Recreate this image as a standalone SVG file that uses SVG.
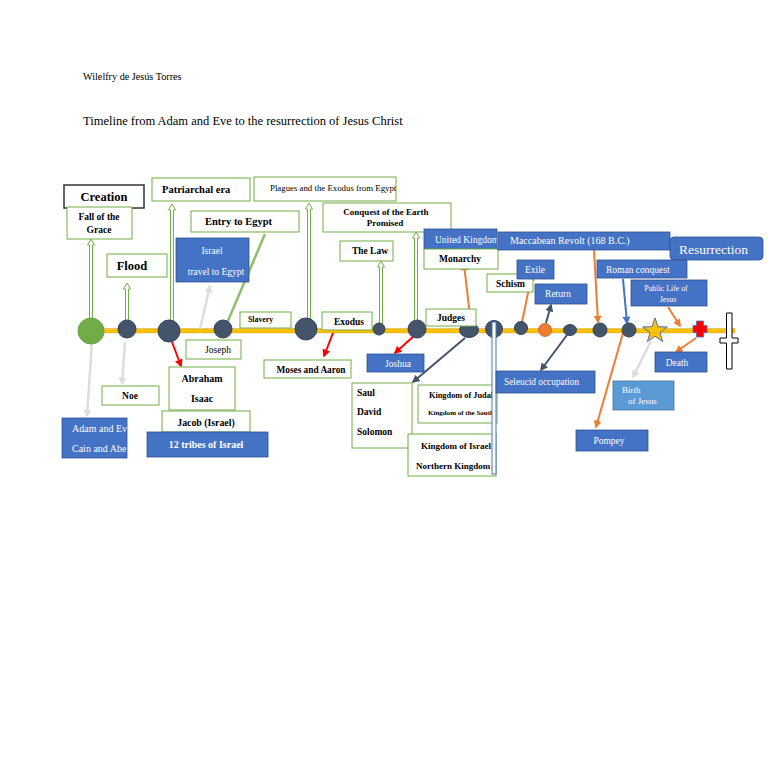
<svg xmlns="http://www.w3.org/2000/svg" width="768" height="762" viewBox="0 0 768 762">
<style>
text{font-family:"Liberation Serif","Times New Roman",serif;fill:#000}
.g{fill:#fff;stroke:#70AD47;stroke-width:1}
.k{fill:#fff;stroke:#333;stroke-width:1.5}
.b{fill:#4472C4;stroke:#2F528F;stroke-width:0.8}
.w{fill:#fff}
.bd{font-weight:bold}
.c{text-anchor:middle}
.dot{fill:#44546A;stroke:#36455A;stroke-width:1}
.ga{fill:#fff;stroke:#70AD47;stroke-width:1}
.gray{stroke:#DDDDDD;stroke-width:2.5;fill:none;marker-end:url(#mGray)}
.red{stroke:#FF0000;stroke-width:2;fill:none;marker-end:url(#mRed)}
.sl{stroke:#44546A;stroke-width:2;fill:none;marker-end:url(#mSl)}
.or{stroke:#ED7D31;stroke-width:2;fill:none;marker-end:url(#mOr)}
.bl{stroke:#4472C4;stroke-width:2;fill:none;marker-end:url(#mBl)}
</style>
<defs>
<marker id="mGray" viewBox="0 0 10 10" refX="8" refY="5" markerWidth="8" markerHeight="8" markerUnits="userSpaceOnUse" orient="auto"><path d="M0,0L10,5L0,10z" fill="#DDDDDD"/></marker>
<marker id="mRed" viewBox="0 0 10 10" refX="8" refY="5" markerWidth="8" markerHeight="8" markerUnits="userSpaceOnUse" orient="auto"><path d="M0,0L10,5L0,10z" fill="#FF0000"/></marker>
<marker id="mSl" viewBox="0 0 10 10" refX="8" refY="5" markerWidth="8" markerHeight="8" markerUnits="userSpaceOnUse" orient="auto"><path d="M0,0L10,5L0,10z" fill="#44546A"/></marker>
<marker id="mOr" viewBox="0 0 10 10" refX="8" refY="5" markerWidth="8" markerHeight="8" markerUnits="userSpaceOnUse" orient="auto"><path d="M0,0L10,5L0,10z" fill="#ED7D31"/></marker>
<marker id="mBl" viewBox="0 0 10 10" refX="8" refY="5" markerWidth="8" markerHeight="8" markerUnits="userSpaceOnUse" orient="auto"><path d="M0,0L10,5L0,10z" fill="#4472C4"/></marker>
<clipPath id="cpUK"><rect x="424" y="229" width="73" height="20"/></clipPath>
<clipPath id="cpAdam"><rect x="62" y="418" width="65" height="40"/></clipPath>
<clipPath id="cpPl"><rect x="254" y="177" width="142" height="24"/></clipPath>
</defs>

<text x="83" y="80" font-size="10.2">Wilelfry de Jesús Torres</text>
<text x="83" y="125" font-size="12.5">Timeline from Adam and Eve to the resurrection of Jesus Christ</text>

<!-- timeline -->
<rect x="90" y="328.5" width="645" height="4.5" fill="#FFC000" stroke="#B5A642" stroke-width="0.4"/>

<g id="connectors">
<path class="ga" d="M89.5,320V245H87.5L91,239L94.5,245H92.5V320Z"/>
<path class="ga" d="M125.5,322V289H123.5L127,283L130.5,289H128.5V322Z"/>
<path class="ga" d="M170.5,322V210H168.5L172,204L175.5,210H173.5V322Z"/>
<path class="ga" d="M307.5,320V209H305.5L309,203L312.5,209H310.5V320Z"/>
<path class="ga" d="M379.5,324V267H377.5L381,261L384.5,267H382.5V324Z"/>
<path class="ga" d="M414.5,322V238H412.5L416,232L419.5,238H417.5V322Z"/>
<line x1="227" y1="323" x2="265" y2="234" stroke="#8CC06A" stroke-width="2.5"/>
<line class="gray" x1="92" y1="342" x2="87" y2="416"/>
<line class="gray" x1="125" y1="342" x2="122" y2="384"/>
<line class="gray" x1="200" y1="329" x2="210" y2="286"/>
<line class="gray" x1="651" y1="341" x2="633" y2="377"/>
<line class="red" x1="172" y1="342" x2="181" y2="366"/>
<line class="red" x1="333" y1="333" x2="324" y2="356"/>
<line class="red" x1="415" y1="335" x2="395" y2="353"/>
<line class="sl" x1="465" y1="338" x2="413" y2="382"/>
<line class="sl" x1="546" y1="323" x2="551" y2="305"/>
<line class="sl" x1="567" y1="335" x2="541" y2="370"/>
<line class="or" x1="471" y1="325" x2="464" y2="264"/>
<line class="or" x1="522" y1="322" x2="532" y2="274"/>
<line class="or" x1="594" y1="250" x2="598" y2="322"/>
<line class="or" x1="623" y1="333" x2="596" y2="427"/>
<line class="or" x1="668" y1="307" x2="680" y2="326"/>
<line class="or" x1="696" y1="338" x2="676" y2="352"/>
<line class="bl" x1="623" y1="279" x2="627" y2="323"/>
</g>

<g id="markers">
<circle cx="91" cy="331" r="13" fill="#70AD47" stroke="#6AA544" stroke-width="1"/>
<circle class="dot" cx="127" cy="329" r="9"/>
<circle class="dot" cx="169" cy="331" r="11"/>
<circle class="dot" cx="223" cy="329" r="9"/>
<circle class="dot" cx="306" cy="329" r="11"/>
<circle class="dot" cx="379" cy="329" r="6"/>
<circle class="dot" cx="417" cy="329" r="9" stroke="#5E8A48"/>
<ellipse class="dot" cx="469" cy="330" rx="9.5" ry="7.5"/>
<circle class="dot" cx="494" cy="329" r="8.5"/>
<circle class="dot" cx="521" cy="328" r="6.5"/>
<circle cx="545" cy="330" r="6.5" fill="#ED7D31" stroke="#C0622A" stroke-width="0.8"/>
<ellipse class="dot" cx="570" cy="330" rx="6.5" ry="5.5"/>
<circle class="dot" cx="600" cy="330" r="7"/>
<circle class="dot" cx="629" cy="330" r="7"/>
<polygon points="655,318 658.1,326.7 667.4,327 660,332.6 662.6,341.5 655,336.3 647.4,341.5 650,332.6 642.6,327 651.9,326.7" fill="#FFC000" stroke="#4472C4" stroke-width="1"/>
<path d="M696.5,321H703.5V325.5H707V332.5H703.5V337H696.5V332.5H693V325.5H696.5Z" fill="#FF0000" stroke="#4472C4" stroke-width="0.8"/>
<path d="M726.5,313H732V338H738V343H732V369H726.5V343H720V338H726.5Z" fill="#fff" stroke="#000" stroke-width="1"/>
</g>

<g id="creation"><rect class="k" x="64" y="185" width="80" height="23"/><text class="bd c" x="104" y="201" font-size="12.5">Creation</text></g>
<g id="fall"><rect class="g" x="67" y="207" width="65" height="32"/><text class="bd c" x="99" y="220" font-size="9.5">Fall of the</text><text class="bd c" x="99" y="233" font-size="9.5">Grace</text></g>
<g id="flood"><rect class="g" x="107" y="254" width="60" height="23"/><text class="bd c" x="132" y="270" font-size="12.5">Flood</text></g>
<g id="patriarchal"><rect class="g" x="152" y="178" width="98" height="23"/><text class="bd" x="162" y="193" font-size="10.5">Patriarchal era</text></g>
<g id="entry"><rect class="g" x="191" y="211" width="108" height="21"/><text class="bd" x="205" y="225" font-size="10.5">Entry to Egypt</text></g>
<g id="israeltravel"><rect class="b" x="176" y="238" width="73" height="44"/><text class="w c" x="212" y="254" font-size="9.5">Israel</text><text class="w c" x="216" y="275" font-size="9.5">travel to Egypt</text></g>
<g id="plagues"><rect class="g" x="254" y="177" width="142" height="24"/><text x="270" y="191" font-size="8.8" clip-path="url(#cpPl)">Plagues and the Exodus from Egypt</text></g>
<g id="conquest"><rect class="g" x="323" y="203" width="128" height="29"/><text class="bd c" x="386" y="215" font-size="9">Conquest of the Earth</text><text class="bd c" x="385" y="226" font-size="9">Promised</text></g>
<g id="law"><rect class="g" x="340" y="241" width="53" height="20"/><text class="bd c" x="370" y="254" font-size="9.5">The Law</text></g>
<g id="united"><rect class="b" x="424" y="229" width="73" height="20"/><text class="w" x="435" y="243" font-size="9.5" clip-path="url(#cpUK)">United Kingdom</text></g>
<g id="monarchy"><rect class="g" x="424" y="249" width="74" height="20"/><text class="bd c" x="460" y="262" font-size="9.5">Monarchy</text></g>
<g id="maccabean"><rect class="b" x="498" y="232" width="172" height="18"/><text class="w" x="510" y="244" font-size="10">Maccabean Revolt (168 B.C.)</text></g>
<g id="resurrection"><rect x="670" y="237" width="93" height="23" rx="4" fill="#4472C4" stroke="#2F528F" stroke-width="0.8"/><text class="w" x="679" y="254" font-size="13.5">Resurrection</text></g>
<g id="schism"><rect class="g" x="487" y="274" width="46" height="18"/><text class="bd" x="496" y="287" font-size="9.5">Schism</text></g>
<g id="exile"><rect class="b" x="517" y="260" width="37" height="19"/><text class="w c" x="535" y="273" font-size="9.5">Exile</text></g>
<g id="return"><rect class="b" x="535" y="284" width="52" height="20"/><text class="w c" x="558" y="297" font-size="9.5">Return</text></g>
<g id="roman"><rect class="b" x="597" y="260" width="90" height="18"/><text class="w" x="606" y="273" font-size="9.5">Roman conquest</text></g>
<g id="publiclife"><rect class="b" x="631" y="280" width="76" height="26"/><text class="w c" x="666" y="291" font-size="7.8">Public Life of</text><text class="w c" x="668" y="302" font-size="7.8">Jesus</text></g>
<g id="death"><rect class="b" x="655" y="352" width="52" height="20"/><text class="w c" x="677" y="366" font-size="9.5">Death</text></g>
<g id="judges"><rect class="g" x="426" y="309" width="50" height="17"/><text class="bd c" x="451" y="321" font-size="9.5">Judges</text></g>
<g id="slavery"><rect class="g" x="240" y="312" width="51" height="16"/><text class="bd" x="248" y="322" font-size="7.8">Slavery</text></g>
<g id="joseph"><rect class="g" x="186" y="340" width="55" height="19"/><text class="c" x="218" y="353" font-size="9.5">Joseph</text></g>
<g id="exodus"><rect class="g" x="322" y="312" width="50" height="18"/><text class="bd c" x="349" y="325" font-size="9.5">Exodus</text></g>
<g id="moses"><rect class="g" x="264" y="360" width="87" height="18"/><text class="bd c" x="311" y="373" font-size="9.3">Moses and Aaron</text></g>
<g id="joshua"><rect class="b" x="367" y="354" width="57" height="18"/><text class="w c" x="398" y="367" font-size="9.5">Joshua</text></g>
<g id="saul"><rect class="g" x="352" y="383" width="60" height="65"/><text class="bd" x="357" y="396" font-size="9.5">Saul</text><text class="bd" x="357" y="415" font-size="9.5">David</text><text class="bd" x="357" y="435" font-size="9.5">Solomon</text></g>
<g id="judah"><rect class="g" x="418" y="385" width="79" height="38"/><text class="bd" x="429" y="398" font-size="8.3">Kingdom of Judah</text><text class="bd" x="428" y="415" font-size="7">Kingdom of the South</text></g>
<g id="israelk"><rect class="g" x="408" y="434" width="88" height="42"/><text class="bd" x="421" y="449" font-size="9">Kingdom of Israel</text><text class="bd" x="416" y="469" font-size="9">Northern Kingdom</text></g>
<g id="blueline"><rect x="492" y="322" width="4" height="152" fill="#fff" stroke="#4472C4" stroke-width="1"/></g>
<g id="seleucid"><rect class="b" x="496" y="371" width="99" height="22"/><text class="w" x="504" y="385" font-size="9.3">Seleucid occupation</text></g>
<g id="birth"><rect x="613" y="381" width="61" height="29" fill="#5B9BD5" stroke="#41719C" stroke-width="0.8"/><text class="w" x="622" y="393" font-size="9">Birth</text><text class="w" x="628" y="404" font-size="9">of Jesus</text></g>
<g id="pompey"><rect class="b" x="576" y="430" width="72" height="21"/><text class="w c" x="609" y="444" font-size="9.5">Pompey</text></g>
<g id="noe"><rect class="g" x="102" y="386" width="57" height="19"/><text class="bd c" x="130" y="399" font-size="9.5">Noe</text></g>
<g id="abraham"><rect class="g" x="169" y="367" width="66" height="43"/><text class="bd c" x="202" y="382" font-size="10">Abraham</text><text class="bd c" x="202" y="402" font-size="10">Isaac</text></g>
<g id="jacob"><rect class="g" x="162" y="411" width="88" height="21"/><text class="bd c" x="206" y="426" font-size="9.8">Jacob (Israel)</text></g>
<g id="tribes"><rect class="b" x="147" y="432" width="121" height="25"/><text class="w c bd" x="206" y="448" font-size="10">12 tribes of Israel</text></g>
<g id="adam"><rect class="b" x="62" y="418" width="65" height="40"/><g clip-path="url(#cpAdam)"><text class="w" x="72" y="432" font-size="10">Adam and Eve</text><text class="w" x="72" y="452" font-size="10">Cain and Abel</text></g></g>
</svg>
